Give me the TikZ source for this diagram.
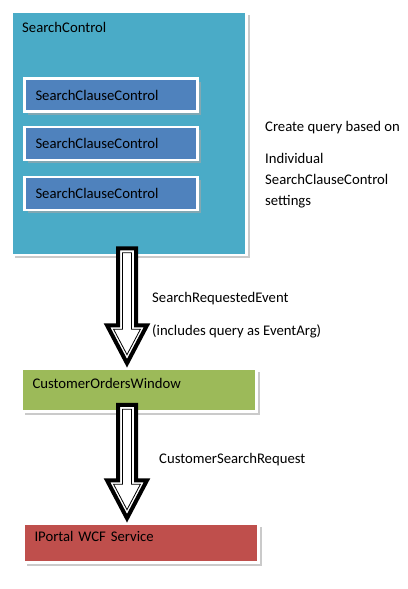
\documentclass[tikz,border=0pt]{standalone}
\usepackage{fontspec}
\setmainfont{Carlito}
\usepackage{tikz}
\usetikzlibrary{shadows, calc}
\definecolor{ctrlteal}{rgb}{0.29,0.67,0.78}
\definecolor{clauseblue}{rgb}{0.31,0.51,0.74}
\definecolor{windowgreen}{rgb}{0.61,0.73,0.35}
\definecolor{servicered}{rgb}{0.75,0.31,0.30}
\newcommand{\boxfont}{\fontsize{14.7}{21}\selectfont}
% block arrow: #1 x position, #2 from node, #3 to node
\newcommand{\blockarrow}[3]{%
  \draw[arrowouter] let \p1=(#2.south), \p2=(#3.north) in
    (#1pt-9pt,\y1+8pt) -- (#1pt+9pt,\y1+8pt) -- (#1pt+9pt,\y2+42pt)
    -- (#1pt+20pt,\y2+42pt) -- (#1pt,\y2+4pt) -- (#1pt-20pt,\y2+42pt)
    -- (#1pt-9pt,\y2+42pt) -- cycle;
  \draw[arrowinner] let \p1=(#2.south), \p2=(#3.north) in
    (#1pt-4.5pt,\y1+3.5pt) -- (#1pt+4.5pt,\y1+3.5pt) -- (#1pt+4.5pt,\y2+38pt)
    -- (#1pt+13.4pt,\y2+38pt) -- (#1pt,\y2+12.6pt) -- (#1pt-13.4pt,\y2+38pt)
    -- (#1pt-4.5pt,\y2+38pt) -- cycle;
}
\begin{document}
\begin{tikzpicture}[x=1pt, y=-1pt,
    box/.style={rectangle, draw=white, line width=2.5pt, inner xsep=11pt, inner ysep=0pt,
      align=left, font=\boxfont,
      drop shadow={shadow xshift=3pt, shadow yshift=-3pt, fill=black!35, opacity=0.6}},
    note/.style={anchor=base west, inner sep=0pt, font=\boxfont},
    arrowouter/.style={draw=black, line width=4pt, fill=white},
    arrowinner/.style={draw=black, line width=0.8pt}
]
\useasboundingbox (0,0) rectangle (407,589);

% Controls
\node[box, fill=ctrlteal, minimum width=235pt, minimum height=243pt] (sc) at (129,133.5) {};
\node[note] (sctitle) at (22,32) {SearchControl};
\node[box, fill=clauseblue, text width=151pt, minimum height=33pt] (clause1) at (111,95) {SearchClauseControl};
\node[box, fill=clauseblue, text width=151pt, minimum height=33pt] (clause2) at (111,143.5) {SearchClauseControl};
\node[box, fill=clauseblue, text width=151pt, minimum height=33pt] (clause3) at (111,193.5) {SearchClauseControl};

% Window and service
\node[box, fill=windowgreen, text width=213pt, minimum height=43pt, text height=10pt, text depth=14pt] (cow) at (139,390) {CustomerOrdersWindow};
\node[box, fill=servicered, text width=213pt, minimum height=39pt, text height=10pt, text depth=14pt] (ips) at (141,543) {IPortal WCF Service};

% Block arrows
\blockarrow{127}{sc}{cow}
\blockarrow{127}{cow}{ips}

% Labels
\node[note] (evt) at (152,302) {SearchRequestedEvent};
\node[note] (evtarg) at (152,335) {(includes query as EventArg)};
\node[note] (req) at (159,463) {CustomerSearchRequest};
\node[note] (query) at (265,131) {Create query based on};
\node[note, anchor=west, align=left] (settings) at (265,180.3) {Individual\\SearchClauseControl\\settings};

\end{tikzpicture}
\end{document}
